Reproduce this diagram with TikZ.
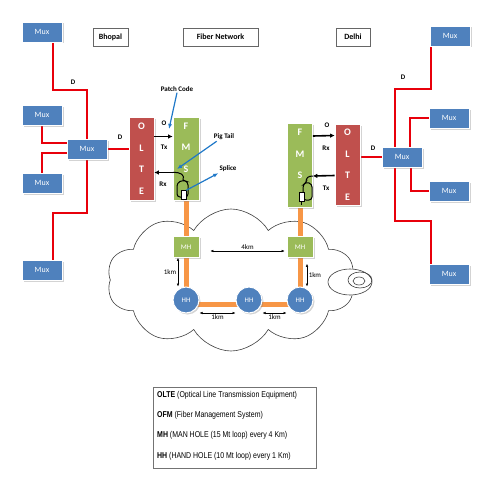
\documentclass[tikz,border=0pt]{standalone}
\usepackage{fontspec}
\setmainfont{Carlito}
\newfontfamily\narrowfont[FakeStretch=0.82]{Liberation Sans}
\usepackage{xcolor}
\usepackage{tikz}
\usetikzlibrary{positioning, arrows.meta, shapes.symbols, shadows}

\definecolor{muxblue}{HTML}{4F81BD}
\definecolor{oltered}{HTML}{C0504D}
\definecolor{fmsgreen}{HTML}{9BBB59}
\definecolor{fibreorange}{HTML}{F79646}
\definecolor{calloutblue}{HTML}{1F78C8}
\definecolor{dred}{HTML}{E8000B}

\pgfdeclarelayer{back}
\pgfdeclarelayer{fibre}
\pgfsetlayers{back,fibre,main}

\tikzset{
  boxshadow/.style={drop shadow={shadow xshift=1.5pt, shadow yshift=-1.5pt, opacity=0.35}},
  muxbox/.style={rectangle, fill=muxblue, draw=white, line width=0.6pt, minimum width=40pt,
    minimum height=20pt, text=white, font=\fontsize{8}{9}\selectfont, boxshadow},
  citybox/.style={rectangle, draw=black!60, fill=white, minimum height=18pt, inner sep=2pt,
    font=\bfseries\fontsize{8}{9}\selectfont},
  unitbox/.style={rectangle, draw=white, line width=0.6pt, minimum width=25pt, text=white,
    align=center, font=\bfseries\fontsize{10}{21.5}\selectfont, boxshadow},
  mhbox/.style={rectangle, fill=fmsgreen, draw=white, line width=0.6pt, minimum width=26pt,
    minimum height=21pt, text=white, font=\fontsize{7}{8}\selectfont, boxshadow},
  hhnode/.style={circle, fill=muxblue, draw=white, line width=1pt, minimum size=26pt,
    inner sep=0pt, text=white, font=\fontsize{7}{8}\selectfont, boxshadow},
  splicebox/.style={rectangle, fill=white, draw=black, line width=0.5pt, minimum width=5pt,
    minimum height=9pt, inner sep=0pt},
  lbl/.style={inner sep=1pt, font=\bfseries\fontsize{7}{8}\selectfont},
  dimlbl/.style={inner sep=1.5pt, font=\fontsize{7}{8}\selectfont},
  dline/.style={draw=dred, line width=2.6pt},
  fibre/.style={draw=fibreorange, line width=5pt},
  sig/.style={-{Latex[length=4.5pt,width=4.5pt]}, line width=1.6pt},
  pig/.style={line width=1pt},
  callout/.style={-{Latex[length=5pt,width=4pt]}, draw=calloutblue, line width=1.2pt},
  dim/.style={{Latex[length=3pt,width=2.5pt]}-{Latex[length=3pt,width=2.5pt]}, line width=0.5pt}
}

\begin{document}
\begin{tikzpicture}[x=1pt, y=-1pt]
    \useasboundingbox (0,0) rectangle (495,495);

    % Cloud of the fiber route
    \begin{pgfonlayer}{back}
        \node[cloud, draw=black!75, line width=0.6pt, cloud puffs=10, cloud puff arc=120,
            cloud ignores aspect, minimum width=248pt, minimum height=142pt] (cloudy) at (231,280) {};
        \draw[black!75, line width=0.6pt, fill=white] (350,282) ellipse [x radius=22pt, y radius=13pt];
        \draw[black!75, line width=0.6pt] (360,280) ellipse [x radius=12pt, y radius=8pt];
        \draw[black!75, line width=0.6pt] (359,281) ellipse [x radius=6pt, y radius=4pt];
    \end{pgfonlayer}

    % City and network titles
    \node[citybox, minimum width=35pt] (bhopal) at (110.5,37) {Bhopal};
    \node[citybox, minimum width=75pt] (fibnet) at (220.5,37) {Fiber Network};
    \node[citybox, minimum width=34pt] (delhi) at (353,37) {Delhi};

    % Mux boxes
    \foreach \n/\x/\y in {muxLA/42/32, muxLB/42/115, muxLC/87/149, muxLD/42/183, muxLE/42/270,
                          muxRA/450/36, muxRB/449/118, muxRC/402/157, muxRD/449/191, muxRE/449/274} {
        \node[muxbox] (\n) at (\x,\y) {Mux};
    }

    % OLTE and FMS racks
    \node[unitbox, fill=oltered, minimum height=83pt] (oltL) at (141.5,158.5) {O\\L\\T\\E};
    \node[unitbox, fill=fmsgreen, minimum height=83pt, minimum width=26pt] (fmsL) at (186,158.5) {F\\M\\S\\\phantom{E}};
    \node[unitbox, fill=fmsgreen, minimum height=84pt] (fmsR) at (300,165) {F\\M\\S\\\phantom{E}};
    \node[unitbox, fill=oltered, minimum height=81pt] (oltR) at (347.5,164.5) {O\\L\\T\\E};

    % Man holes and hand holes
    \node[mhbox] (mhL) at (186,247) {MH};
    \node[mhbox] (mhR) at (300,247) {MH};
    \node[hhnode] (hhL) at (186,300) {HH};
    \node[hhnode] (hhM) at (249,300) {HH};
    \node[hhnode] (hhR) at (300,300) {HH};

    % Splices
    \node[splicebox] (splL) at (183.5,195) {};
    \node[splicebox] (splR) at (301.5,197) {};

    % Red D links
    \begin{pgfonlayer}{fibre}
        \coordinate (bLA) at (53,90);
        \coordinate (bLE) at (53,213);
        \coordinate (bRA) at (431,89);
        \coordinate (bRE) at (431,221);
        \draw[dline] (muxLA.south -| bLA) -- (bLA) -| (muxLC.north);
        \draw[dline] (muxLB.south) |- ([yshift=6pt]muxLC.west);
        \draw[dline] (muxLD.north) |- ([yshift=-4pt]muxLC.west);
        \draw[dline] (muxLC.south) |- (bLE) -- (muxLE.north -| bLE);
        \draw[dline] (muxLC.east) -- (muxLC.east -| oltL.west);
        \draw[dline] (bRA |- muxRA.center) -- (bRA) -| ([xshift=-7pt]muxRC.north);
        \draw[dline] (muxRB.west) -| ([xshift=8pt]muxRC.north);
        \draw[dline] ([xshift=9pt]muxRC.south) |- (muxRD.west);
        \draw[dline] ([xshift=-7pt]muxRC.south) |- (bRE) -- (bRE |- muxRE.center);
        \draw[dline] (muxRC.west) -- (muxRC.west -| oltR.east);

        % Orange fiber
        \draw[fibre] (fmsL.south) -- (mhL.north);
        \draw[fibre] (mhL.south) -- (hhL.north);
        \draw[fibre] ([yshift=-4pt]hhL.center) -- ([yshift=-4pt]hhR.center);
        \draw[fibre] (fmsR.south) -- (mhR.north);
        \draw[fibre] (mhR.south) -- (hhR.north);
    \end{pgfonlayer}

    \node[lbl] (dLA) at (73,82) {D};
    \node[lbl] (dLC) at (120,137) {D};
    \node[lbl] (dRA) at (403,77) {D};
    \node[lbl] (dRC) at (373,148) {D};

    % Tx / Rx signals
    \draw[sig] ([yshift=22pt]oltL.east) -- ([yshift=22pt]fmsL.west);
    \draw[sig] ([yshift=-14pt]fmsL.west) -- ([yshift=-14pt]oltL.east);
    \draw[sig] ([yshift=29pt]fmsR.east) -- ([yshift=29pt]oltR.west);
    \draw[sig] ([yshift=-11pt]oltR.west) -- ([yshift=-11pt]fmsR.east);
    \node[lbl] (oL) at (164,123) {O};
    \node[lbl] (txL) at (164,147) {Tx};
    \node[lbl] (rxL) at (163,184) {Rx};
    \node[lbl] (oR) at (327,125) {O};
    \node[lbl] (rxR) at (326,148) {Rx};
    \node[lbl] (txR) at (326,188) {Tx};

    % Pig tails
    \draw[pig] ([yshift=-14pt]fmsL.west) .. controls (181,172) and (185,175) .. (183,180);
    \draw[pig, rounded corners=3pt] (183,180) -- (177,183) -- (177,197) -- (188,197) -- (188,182) -- cycle;
    \draw[-{Latex[length=2.5pt,width=2.5pt]}, line width=0.5pt] (splL.south) -- (splL.south |- fmsL.south);
    \draw[pig] ([yshift=-11pt]fmsR.east) .. controls (308,176) and (306,178) .. (306,182);
    \draw[pig, rounded corners=3pt] (306,182) -- (303,185) -- (303,200) -- (312,200) -- (312,184) -- cycle;
    \draw[dashed, line width=0.6pt] (splR.south) -- (splR.south |- fmsR.south);
    \node[splicebox] at (splL) {};
    \node[splicebox] at (splR) {};

    % Callouts
    \node[lbl] (pcode) at (177,89) {Patch Code};
    \node[lbl] (pigtail) at (224,137) {Pig Tail};
    \node[lbl] (splice) at (228,169) {Splice};
    \coordinate (pcT) at (169,129);
    \coordinate (ptT) at (177,169);
    \draw[callout] (pcode.south) -- (pcT);
    \draw[callout] ([xshift=4pt]pigtail.south west) -- (ptT);
    \draw[callout] (splL.north east) -- (splice.south west);

    % Distances
    \draw[dim] ([xshift=11pt,yshift=-4pt]mhL.east) -- ([xshift=-2pt,yshift=-4pt]mhR.west)
        node[midway, above, dimlbl] {4km};
    \draw[dim] ([xshift=-8pt]mhL.south) -- ([xshift=-8pt]hhL.north) node[midway, left, dimlbl] {1km};
    \draw[dim] ([xshift=7pt,yshift=-6pt]mhR.south) -- ([xshift=7pt]hhR.north) node[midway, right, dimlbl] {1km};
    \draw[dim] ([yshift=-13pt]hhL.east) -- ([yshift=-13pt]hhM.west) node[midway, below, dimlbl] {1km};
    \draw[dim] ([yshift=-13pt]hhM.east) -- ([yshift=-13pt]hhR.west) node[midway, below, dimlbl] {1km};

    % Legend
    \node[draw=black!55, line width=0.6pt, minimum width=163pt, minimum height=81pt, anchor=north west] (legend) at (153,387) {};
    \foreach \i/\abbr/\desc in {0/OLTE/(Optical Line Transmission Equipment),
                                1/OFM/(Fiber Management System),
                                2/MH/(MAN HOLE (15 Mt loop) every 4 Km),
                                3/HH/(HAND HOLE (10 Mt loop) every 1 Km)} {
        \node[anchor=west, inner sep=0pt, font=\narrowfont\fontsize{8.5}{10}\selectfont] (leg\i)
            at ([xshift=4pt, yshift=-8pt-\i*20.3pt]legend.north west) {\textbf{\abbr} \desc};
    }
\end{tikzpicture}
\end{document}
